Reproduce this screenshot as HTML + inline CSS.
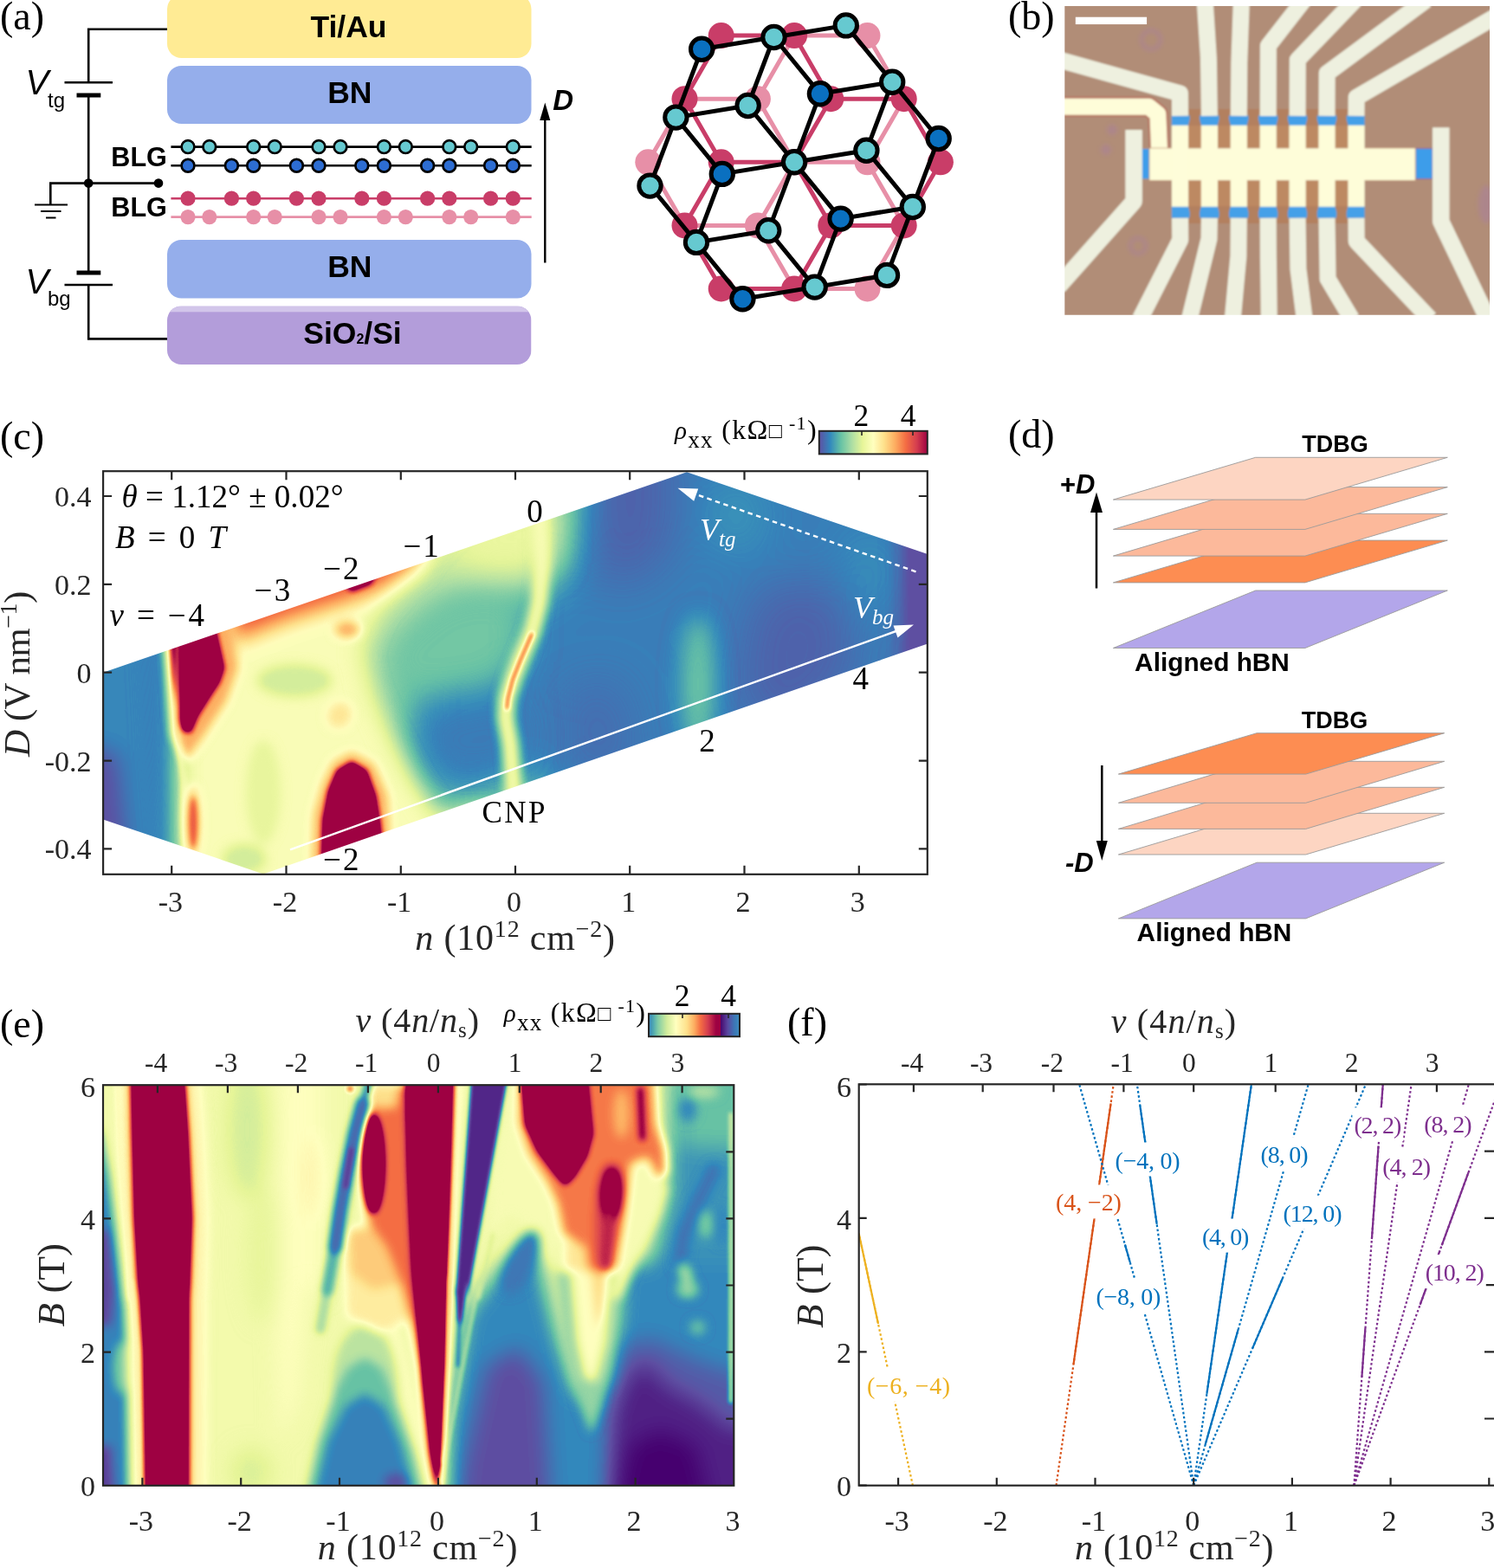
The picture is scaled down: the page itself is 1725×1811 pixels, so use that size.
<!DOCTYPE html>
<html lang="en"><head><meta charset="utf-8"><title>Figure</title>
<style>
html,body{margin:0;padding:0;background:#fff}
body{width:1725px;height:1811px;overflow:hidden}
svg{display:block}
text{font-family:"Liberation Serif",serif}
text.sa,.sa text{font-family:"Liberation Sans",sans-serif}
.it{font-style:italic}
</style></head><body>
<svg width="1725" height="1811" viewBox="0 0 1725 1811">
<rect width="1725" height="1811" fill="#fff"/>
<g id="pa">
<text x="0" y="34" font-size="46">(a)</text>
<rect x="193" y="-6" width="420.5" height="73" rx="16.5" fill="#FFEB94"/>
<rect x="193" y="76" width="420.5" height="67" rx="16.5" fill="#95AEEB"/>
<rect x="193" y="277" width="420.5" height="67.5" rx="16.5" fill="#95AEEB"/>
<clipPath id="csi"><rect x="193" y="353.5" width="420.5" height="67.5" rx="16.5"/></clipPath>
<g clip-path="url(#csi)"><rect x="193" y="353.5" width="420.5" height="67.5" fill="#B39DDA"/><rect x="193" y="353.5" width="420.5" height="6.8" fill="#D2C5EA"/></g>
<text x="402.5" y="42.8" font-size="35.5" class="sa" font-weight="bold" text-anchor="middle">Ti/Au</text>
<text x="403.8" y="118.6" font-size="35.5" class="sa" font-weight="bold" text-anchor="middle">BN</text>
<text x="403.8" y="319.6" font-size="35.5" class="sa" font-weight="bold" text-anchor="middle">BN</text>
<text x="407" y="397" font-size="35.5" class="sa" font-weight="bold" text-anchor="middle">SiO<tspan font-size="16" dy="0">2</tspan>/Si</text>
<g fill="none" stroke="#000" stroke-width="2.6">
<path d="M193 33.7H102.2V95.3M102.2 110V315M102.2 329V391.4H193"/>
<path d="M74.5 95.3H130M74.5 329H130"/>
<path d="M58.3 236.5V211.6H183"/>
<path d="M40 236.5H78M47 244H70.5M53 251.5H64.5" stroke-width="2"/>
<path d="M88.5 110H116.3M88.5 315H116.3" stroke-width="5"/>
</g>
<circle cx="102.2" cy="211.6" r="5.3"/><circle cx="183" cy="211.6" r="5.3"/>
<text x="29.5" y="109" font-size="40" class="sa" font-style="italic">V</text>
<text x="55" y="123.5" font-size="24" class="sa">tg</text>
<text x="29.5" y="339" font-size="40" class="sa" font-style="italic">V</text>
<text x="55" y="353" font-size="24" class="sa">bg</text>
<text x="128.3" y="191.9" font-size="30.6" class="sa" font-weight="bold">BLG</text>
<text x="128.3" y="249.8" font-size="30.6" class="sa" font-weight="bold">BLG</text>
<path d="M197.4 169.6H613.7" stroke="#000" stroke-width="2.6"/>
<g fill="#66C9D0" stroke="#000" stroke-width="2.7">
<circle cx="217" cy="169.6" r="7.4"/>
<circle cx="241.8" cy="169.6" r="7.4"/>
<circle cx="292.7" cy="169.6" r="7.4"/>
<circle cx="317.2" cy="169.6" r="7.4"/>
<circle cx="368" cy="169.6" r="7.4"/>
<circle cx="393" cy="169.6" r="7.4"/>
<circle cx="443.4" cy="169.6" r="7.4"/>
<circle cx="468.3" cy="169.6" r="7.4"/>
<circle cx="518.8" cy="169.6" r="7.4"/>
<circle cx="543.7" cy="169.6" r="7.4"/>
<circle cx="592.3" cy="169.6" r="7.4"/>
</g>
<path d="M197.4 191.3H613.7" stroke="#000" stroke-width="2.6"/>
<g fill="#2D6DD2" stroke="#000" stroke-width="2.7">
<circle cx="217" cy="191.3" r="7.4"/>
<circle cx="267.4" cy="191.3" r="7.4"/>
<circle cx="292.7" cy="191.3" r="7.4"/>
<circle cx="342.4" cy="191.3" r="7.4"/>
<circle cx="368" cy="191.3" r="7.4"/>
<circle cx="417.8" cy="191.3" r="7.4"/>
<circle cx="443.4" cy="191.3" r="7.4"/>
<circle cx="493.6" cy="191.3" r="7.4"/>
<circle cx="518.8" cy="191.3" r="7.4"/>
<circle cx="566.6" cy="191.3" r="7.4"/>
<circle cx="592.3" cy="191.3" r="7.4"/>
</g>
<path d="M197.4 229.2H613.7" stroke="#C93D68" stroke-width="2.6"/>
<g fill="#C93D68">
<circle cx="217" cy="229.2" r="8.6"/>
<circle cx="267.4" cy="229.2" r="8.6"/>
<circle cx="292.7" cy="229.2" r="8.6"/>
<circle cx="342.4" cy="229.2" r="8.6"/>
<circle cx="368" cy="229.2" r="8.6"/>
<circle cx="417.8" cy="229.2" r="8.6"/>
<circle cx="443.4" cy="229.2" r="8.6"/>
<circle cx="493.6" cy="229.2" r="8.6"/>
<circle cx="518.8" cy="229.2" r="8.6"/>
<circle cx="566.6" cy="229.2" r="8.6"/>
<circle cx="592.3" cy="229.2" r="8.6"/>
</g>
<path d="M197.4 250.6H613.7" stroke="#E78FA7" stroke-width="2.6"/>
<g fill="#E78FA7">
<circle cx="217" cy="250.6" r="8.6"/>
<circle cx="241.8" cy="250.6" r="8.6"/>
<circle cx="292.7" cy="250.6" r="8.6"/>
<circle cx="317.2" cy="250.6" r="8.6"/>
<circle cx="368" cy="250.6" r="8.6"/>
<circle cx="393" cy="250.6" r="8.6"/>
<circle cx="443.4" cy="250.6" r="8.6"/>
<circle cx="468.3" cy="250.6" r="8.6"/>
<circle cx="518.8" cy="250.6" r="8.6"/>
<circle cx="543.7" cy="250.6" r="8.6"/>
<circle cx="592.3" cy="250.6" r="8.6"/>
</g>
<path d="M629.3 303.5V135" stroke="#000" stroke-width="2.4" fill="none"/>
<path d="M629.3 118.5L623.3 139H635.3Z"/>
<text x="638.3" y="126.5" font-size="33" class="sa" font-weight="bold" font-style="italic">D</text>
<g stroke="#E78FA7" stroke-width="5" stroke-linecap="round">
<path d="M917.1 41.1L1001.5 41.1"/>
<path d="M917.1 41.1L874.9 114.2"/>
<path d="M1001.5 41.1L1043.7 114.2"/>
<path d="M790.5 114.2L874.9 114.2"/>
<path d="M790.5 114.2L748.3 187.3"/>
<path d="M874.9 114.2L917.1 187.3"/>
<path d="M1043.7 114.2L1001.5 187.3"/>
<path d="M748.3 187.3L790.5 260.4"/>
<path d="M917.1 187.3L1001.5 187.3"/>
<path d="M917.1 187.3L874.9 260.4"/>
<path d="M1001.5 187.3L1043.7 260.4"/>
<path d="M790.5 260.4L874.9 260.4"/>
<path d="M874.9 260.4L917.1 333.5"/>
<path d="M1043.7 260.4L1001.5 333.5"/>
<path d="M917.1 333.5L1001.5 333.5"/>
</g><g fill="#E78FA7">
<circle cx="1001.5" cy="41.1" r="15"/>
<circle cx="874.9" cy="114.2" r="15"/>
<circle cx="874.9" cy="260.4" r="15"/>
<circle cx="748.3" cy="187.3" r="15"/>
<circle cx="1001.5" cy="187.3" r="15"/>
<circle cx="1001.5" cy="333.5" r="15"/>
</g><g stroke="#C93D68" stroke-width="5" stroke-linecap="round">
<path d="M832.7 41.1L917.1 41.1"/>
<path d="M832.7 41.1L790.5 114.2"/>
<path d="M917.1 41.1L959.3 114.2"/>
<path d="M790.5 114.2L832.7 187.3"/>
<path d="M959.3 114.2L1043.7 114.2"/>
<path d="M959.3 114.2L917.1 187.3"/>
<path d="M1043.7 114.2L1085.9 187.3"/>
<path d="M832.7 187.3L917.1 187.3"/>
<path d="M832.7 187.3L790.5 260.4"/>
<path d="M917.1 187.3L959.3 260.4"/>
<path d="M1085.9 187.3L1043.7 260.4"/>
<path d="M790.5 260.4L832.7 333.5"/>
<path d="M959.3 260.4L1043.7 260.4"/>
<path d="M959.3 260.4L917.1 333.5"/>
<path d="M832.7 333.5L917.1 333.5"/>
</g><g fill="#C93D68">
<circle cx="790.5" cy="114.2" r="15"/>
<circle cx="1085.9" cy="187.3" r="15"/>
<circle cx="1043.7" cy="114.2" r="15"/>
<circle cx="832.7" cy="41.1" r="15"/>
<circle cx="790.5" cy="260.4" r="15"/>
<circle cx="917.1" cy="187.3" r="15"/>
<circle cx="1043.7" cy="260.4" r="15"/>
<circle cx="959.3" cy="260.4" r="15"/>
<circle cx="959.3" cy="114.2" r="15"/>
<circle cx="832.7" cy="187.3" r="15"/>
<circle cx="917.1" cy="333.5" r="15"/>
<circle cx="832.7" cy="333.5" r="15"/>
<circle cx="917.1" cy="41.1" r="15"/>
</g><g stroke="#000" stroke-width="5" stroke-linecap="round">
<path d="M1000.4 173.7L1053.8 239"/>
<path d="M917.1 187.3L1000.4 173.7"/>
<path d="M857.4 345.2L940.7 331.6"/>
<path d="M887.3 266.3L940.7 331.6"/>
<path d="M893.5 43L976.8 29.4"/>
<path d="M804 279.9L887.3 266.3"/>
<path d="M946.9 108.3L917.1 187.3"/>
<path d="M833.8 200.9L917.1 187.3"/>
<path d="M1083.7 160L1053.8 239"/>
<path d="M780.4 135.6L750.5 214.6"/>
<path d="M1053.8 239L1024 317.9"/>
<path d="M810.2 56.7L780.4 135.6"/>
<path d="M1030.2 94.7L1000.4 173.7"/>
<path d="M917.1 187.3L887.3 266.3"/>
<path d="M893.5 43L863.6 122"/>
<path d="M810.2 56.7L893.5 43"/>
<path d="M917.1 187.3L970.6 252.6"/>
<path d="M780.4 135.6L863.6 122"/>
<path d="M893.5 43L946.9 108.3"/>
<path d="M970.6 252.6L1053.8 239"/>
<path d="M750.5 214.6L804 279.9"/>
<path d="M804 279.9L857.4 345.2"/>
<path d="M940.7 331.6L1024 317.9"/>
<path d="M976.8 29.4L1030.2 94.7"/>
<path d="M833.8 200.9L804 279.9"/>
<path d="M863.6 122L917.1 187.3"/>
<path d="M780.4 135.6L833.8 200.9"/>
<path d="M1030.2 94.7L1083.7 160"/>
<path d="M946.9 108.3L1030.2 94.7"/>
<path d="M970.6 252.6L940.7 331.6"/>
</g><g stroke="#000" stroke-width="5">
<circle cx="810.2" cy="56.7" r="12.7" fill="#0A70C0"/>
<circle cx="893.5" cy="43" r="12.7" fill="#66C9D0"/>
<circle cx="976.8" cy="29.4" r="12.7" fill="#66C9D0"/>
<circle cx="780.4" cy="135.6" r="12.7" fill="#66C9D0"/>
<circle cx="863.6" cy="122" r="12.7" fill="#66C9D0"/>
<circle cx="946.9" cy="108.3" r="12.7" fill="#0A70C0"/>
<circle cx="1030.2" cy="94.7" r="12.7" fill="#66C9D0"/>
<circle cx="750.5" cy="214.6" r="12.7" fill="#66C9D0"/>
<circle cx="833.8" cy="200.9" r="12.7" fill="#0A70C0"/>
<circle cx="917.1" cy="187.3" r="12.7" fill="#66C9D0"/>
<circle cx="1000.4" cy="173.7" r="12.7" fill="#66C9D0"/>
<circle cx="1083.7" cy="160" r="12.7" fill="#0A70C0"/>
<circle cx="804" cy="279.9" r="12.7" fill="#66C9D0"/>
<circle cx="887.3" cy="266.3" r="12.7" fill="#66C9D0"/>
<circle cx="970.6" cy="252.6" r="12.7" fill="#0A70C0"/>
<circle cx="1053.8" cy="239" r="12.7" fill="#66C9D0"/>
<circle cx="857.4" cy="345.2" r="12.7" fill="#0A70C0"/>
<circle cx="940.7" cy="331.6" r="12.7" fill="#66C9D0"/>
<circle cx="1024" cy="317.9" r="12.7" fill="#66C9D0"/>
</g>
</g>
<g id="pb">
<text x="1164" y="34" font-size="46">(b)</text>
<defs><clipPath id="cb"><rect x="1229.3" y="7" width="490.7" height="356.8"/></clipPath><filter id="bb" x="-5%" y="-5%" width="110%" height="110%"><feGaussianBlur stdDeviation="1.3"/></filter><filter id="bb2" x="-50%" y="-50%" width="200%" height="200%"><feGaussianBlur stdDeviation="2.5"/></filter></defs>
<g clip-path="url(#cb)"><g filter="url(#bb)">
<rect x="1220" y="0" width="510" height="375" fill="#B18D77"/>
<g fill="none" stroke="#A97FA0" stroke-width="4" opacity="0.55" filter="url(#bb2)"><circle cx="1329" cy="46" r="11"/><circle cx="1314" cy="284" r="9"/></g>
<g fill="#A97FA0" opacity="0.5" filter="url(#bb2)"><circle cx="1284" cy="150" r="6"/><circle cx="1277" cy="173" r="6"/><ellipse cx="1716" cy="236" rx="9" ry="22"/></g>
<polyline points="1219.2,123.2 1326.4,123.2 1336.9,131.9 1338.6,173.9" fill="none" stroke="#B77562" stroke-width="23.5" stroke-linejoin="round" stroke-linecap="butt" />
<rect x="1352.9" y="133.5" width="222.7" height="12" fill="#45A0E8"/>
<rect x="1352.9" y="238" width="222.7" height="13.8" fill="#45A0E8"/>
<rect x="1371.8" y="144.5" width="15.2" height="27.5" fill="#BD8962"/>
<rect x="1371.8" y="208" width="15.2" height="31" fill="#BD8962"/>
<path d="M1371.8 126l1.9 8v4l-1.9 7h15.2l-1.9-7v-4l1.9-8z" fill="#B3805F"/>
<path d="M1371.8 238l1.9 7v4l-1.9 9h15.2l-1.9-9v-4l1.9-7z" fill="#B3805F"/>
<rect x="1405.7" y="144.5" width="15.2" height="27.5" fill="#BD8962"/>
<rect x="1405.7" y="208" width="15.2" height="31" fill="#BD8962"/>
<path d="M1405.7 126l1.9 8v4l-1.9 7h15.2l-1.9-7v-4l1.9-8z" fill="#B3805F"/>
<path d="M1405.7 238l1.9 7v4l-1.9 9h15.2l-1.9-9v-4l1.9-7z" fill="#B3805F"/>
<rect x="1439.6" y="144.5" width="15.2" height="27.5" fill="#BD8962"/>
<rect x="1439.6" y="208" width="15.2" height="31" fill="#BD8962"/>
<path d="M1439.6 126l1.9 8v4l-1.9 7h15.2l-1.9-7v-4l1.9-8z" fill="#B3805F"/>
<path d="M1439.6 238l1.9 7v4l-1.9 9h15.2l-1.9-9v-4l1.9-7z" fill="#B3805F"/>
<rect x="1473.5" y="144.5" width="15.2" height="27.5" fill="#BD8962"/>
<rect x="1473.5" y="208" width="15.2" height="31" fill="#BD8962"/>
<path d="M1473.5 126l1.9 8v4l-1.9 7h15.2l-1.9-7v-4l1.9-8z" fill="#B3805F"/>
<path d="M1473.5 238l1.9 7v4l-1.9 9h15.2l-1.9-9v-4l1.9-7z" fill="#B3805F"/>
<rect x="1507.4" y="144.5" width="15.2" height="27.5" fill="#BD8962"/>
<rect x="1507.4" y="208" width="15.2" height="31" fill="#BD8962"/>
<path d="M1507.4 126l1.9 8v4l-1.9 7h15.2l-1.9-7v-4l1.9-8z" fill="#B3805F"/>
<path d="M1507.4 238l1.9 7v4l-1.9 9h15.2l-1.9-9v-4l1.9-7z" fill="#B3805F"/>
<rect x="1541.4" y="144.5" width="15.2" height="27.5" fill="#BD8962"/>
<rect x="1541.4" y="208" width="15.2" height="31" fill="#BD8962"/>
<path d="M1541.4 126l1.9 8v4l-1.9 7h15.2l-1.9-7v-4l1.9-8z" fill="#B3805F"/>
<path d="M1541.4 238l1.9 7v4l-1.9 9h15.2l-1.9-9v-4l1.9-7z" fill="#B3805F"/>
<rect x="1316" y="172" width="12" height="34.5" fill="#3E9DEA"/>
<rect x="1634" y="171.5" width="20" height="35" fill="#3E9DEA" stroke="#8A5C9A" stroke-width="1"/>
<polyline points="1219.2,68.1 1362.4,107.8 1362.5,133.9" fill="none" stroke="#EEF0DF" stroke-width="19" stroke-linejoin="round" stroke-linecap="butt" />
<polyline points="1391.1,0 1395.4,66.7 1396.4,133.9" fill="none" stroke="#EEF0DF" stroke-width="19" stroke-linejoin="round" stroke-linecap="butt" />
<polyline points="1433.4,0 1430.8,72.5 1430.3,133.9" fill="none" stroke="#EEF0DF" stroke-width="19" stroke-linejoin="round" stroke-linecap="butt" />
<polyline points="1505.6,0 1464.4,52.8 1464.2,133.9" fill="none" stroke="#EEF0DF" stroke-width="19" stroke-linejoin="round" stroke-linecap="butt" />
<polyline points="1564.7,0 1498.3,69 1498.1,133.9" fill="none" stroke="#EEF0DF" stroke-width="19" stroke-linejoin="round" stroke-linecap="butt" />
<polyline points="1646.7,0 1532.2,84.6 1532,133.9" fill="none" stroke="#EEF0DF" stroke-width="19" stroke-linejoin="round" stroke-linecap="butt" />
<polyline points="1732.2,15.9 1566.2,112.5 1566,133.9" fill="none" stroke="#EEF0DF" stroke-width="19" stroke-linejoin="round" stroke-linecap="butt" />
<polyline points="1362.5,251.9 1362.7,277.1 1316.3,368.4" fill="none" stroke="#EEF0DF" stroke-width="19" stroke-linejoin="round" stroke-linecap="butt" />
<polyline points="1396.4,251.9 1396,275.7 1373.4,368.4" fill="none" stroke="#EEF0DF" stroke-width="19" stroke-linejoin="round" stroke-linecap="butt" />
<polyline points="1430.3,251.9 1429.9,295.9 1423.3,368.4" fill="none" stroke="#EEF0DF" stroke-width="19" stroke-linejoin="round" stroke-linecap="butt" />
<polyline points="1464.2,251.9 1464.4,295.9 1465.3,368.4" fill="none" stroke="#EEF0DF" stroke-width="19" stroke-linejoin="round" stroke-linecap="butt" />
<polyline points="1498.1,251.9 1498.9,310.4 1506.2,368.4" fill="none" stroke="#EEF0DF" stroke-width="19" stroke-linejoin="round" stroke-linecap="butt" />
<polyline points="1532,251.9 1533.1,322 1560.7,368.4" fill="none" stroke="#EEF0DF" stroke-width="19" stroke-linejoin="round" stroke-linecap="butt" />
<polyline points="1566,251.9 1566.2,278.6 1651.1,368.4" fill="none" stroke="#EEF0DF" stroke-width="19" stroke-linejoin="round" stroke-linecap="butt" />
<polyline points="1309.1,150.1 1309.1,232.8 1222.1,330.7" fill="none" stroke="#EEF0DF" stroke-width="19.5" stroke-linejoin="round" stroke-linecap="butt" />
<polyline points="1663.8,147.2 1663.8,255.9 1717.8,368.4" fill="none" stroke="#EEF0DF" stroke-width="19.5" stroke-linejoin="round" stroke-linecap="butt" />
<polyline points="1219.2,123.2 1326.4,123.2 1336.9,131.9 1338.6,173.9" fill="none" stroke="#FEFDD9" stroke-width="19" stroke-linejoin="round" stroke-linecap="butt" />
<rect x="1327" y="171" width="307.2" height="37.5" fill="#FEFDD9" stroke="#C89A7A" stroke-width="0.8"/>
<rect x="1352.9" y="144.8" width="19.2" height="94" fill="#FEFDD9"/>
<rect x="1386.8" y="144.8" width="19.2" height="94" fill="#FEFDD9"/>
<rect x="1420.7" y="144.8" width="19.2" height="94" fill="#FEFDD9"/>
<rect x="1454.6" y="144.8" width="19.2" height="94" fill="#FEFDD9"/>
<rect x="1488.5" y="144.8" width="19.2" height="94" fill="#FEFDD9"/>
<rect x="1522.4" y="144.8" width="19.2" height="94" fill="#FEFDD9"/>
<rect x="1556.4" y="144.8" width="19.2" height="94" fill="#FEFDD9"/>
</g>
<rect x="1241.8" y="19.7" width="82.3" height="8.4" fill="#fff"/>
</g>
</g>
<g id="pc">
<text x="0" y="519" font-size="46">(c)</text>
<defs><clipPath id="cc"><polygon points="119.1,776.7 793,545.3 1071,640 1071,743.5 304,1009.5 119.1,946.4"/></clipPath><filter id="cmC" x="29.1" y="454.2" width="1131.7" height="645.6" filterUnits="userSpaceOnUse" color-interpolation-filters="sRGB"><feComponentTransfer><feFuncR type="table" tableValues="0.369 0.369 0.369 0.334 0.294 0.254 0.214 0.222 0.27 0.317 0.365 0.416 0.479 0.542 0.605 0.668 0.722 0.776 0.83 0.884 0.917 0.94 0.963 0.986 1 0.999 0.998 0.997 0.996 0.995 0.994 0.993 0.992 0.986 0.978 0.969 0.961 0.943 0.915 0.887 0.858 0.826 0.776 0.726 0.675 0.625 0.62 0.62 0.62 0.62 0.62 0.62 0.62 0.62 0.62 0.62 0.62 0.62 0.62"/><feFuncG type="table" tableValues="0.31 0.31 0.31 0.354 0.406 0.458 0.51 0.563 0.616 0.669 0.722 0.767 0.792 0.816 0.841 0.866 0.888 0.91 0.932 0.953 0.967 0.976 0.985 0.994 0.99 0.961 0.933 0.905 0.875 0.829 0.784 0.738 0.692 0.636 0.577 0.518 0.458 0.407 0.364 0.321 0.278 0.233 0.177 0.121 0.066 0.01 0.004 0.004 0.004 0.004 0.004 0.004 0.004 0.004 0.004 0.004 0.004 0.004 0.004"/><feFuncB type="table" tableValues="0.635 0.635 0.635 0.656 0.681 0.706 0.73 0.729 0.707 0.685 0.663 0.647 0.646 0.645 0.644 0.643 0.633 0.622 0.611 0.6 0.62 0.655 0.691 0.727 0.731 0.684 0.637 0.589 0.542 0.504 0.466 0.427 0.389 0.359 0.332 0.304 0.277 0.268 0.279 0.29 0.301 0.308 0.296 0.284 0.272 0.26 0.259 0.259 0.259 0.259 0.259 0.259 0.259 0.259 0.259 0.259 0.259 0.259 0.259"/></feComponentTransfer></filter><filter id="bC2_6" x="29.1" y="454.2" width="1131.7" height="645.6" filterUnits="userSpaceOnUse" color-interpolation-filters="sRGB"><feGaussianBlur stdDeviation="2.6"/></filter><filter id="bC3_3" x="29.1" y="454.2" width="1131.7" height="645.6" filterUnits="userSpaceOnUse" color-interpolation-filters="sRGB"><feGaussianBlur stdDeviation="3.3"/></filter><filter id="bC6" x="29.1" y="454.2" width="1131.7" height="645.6" filterUnits="userSpaceOnUse" color-interpolation-filters="sRGB"><feGaussianBlur stdDeviation="6"/></filter><filter id="bC13" x="29.1" y="454.2" width="1131.7" height="645.6" filterUnits="userSpaceOnUse" color-interpolation-filters="sRGB"><feGaussianBlur stdDeviation="13"/></filter><filter id="bC19" x="29.1" y="454.2" width="1131.7" height="645.6" filterUnits="userSpaceOnUse" color-interpolation-filters="sRGB"><feGaussianBlur stdDeviation="19"/></filter><filter id="bC28" x="29.1" y="454.2" width="1131.7" height="645.6" filterUnits="userSpaceOnUse" color-interpolation-filters="sRGB"><feGaussianBlur stdDeviation="28"/></filter>
<linearGradient id="cbc" x1="0" x2="1" y1="0" y2="0"><stop offset="0" stop-color="#5E4FA2"/><stop offset="0.1" stop-color="#3288BD"/><stop offset="0.2" stop-color="#66C2A5"/><stop offset="0.3" stop-color="#ABDDA4"/><stop offset="0.4" stop-color="#E6F598"/><stop offset="0.5" stop-color="#FFFFBF"/><stop offset="0.6" stop-color="#FEE08B"/><stop offset="0.7" stop-color="#FDAE61"/><stop offset="0.8" stop-color="#F46D43"/><stop offset="0.9" stop-color="#D53E4F"/><stop offset="1" stop-color="#9E0142"/></linearGradient></defs>
<g clip-path="url(#cc)"><g filter="url(#cmC)">
<rect x="29.1" y="454.2" width="1131.7" height="645.6" fill="#1a1a1a"/>
<g filter="url(#bC28)">
<polygon points="250,600 470,520 660,480 650,640 612,690 560,690 510,710 470,750 462,800 470,880 500,940 560,930 620,900 660,1080 250,1080" fill="#4d4d4d"/>
<polygon points="680,500 780,500 775,640 720,680 680,660" fill="#101010"/>
<polygon points="870,680 970,670 990,780 900,850 850,810" fill="#101010"/>
<polygon points="650,790 720,780 740,900 650,900" fill="#141414"/>
<ellipse cx="850" cy="595" rx="22" ry="40" fill="#262626"/>
<ellipse cx="1005" cy="660" rx="14" ry="50" fill="#262626"/>
</g>
<g filter="url(#bC13)">
<ellipse cx="806" cy="790" rx="19" ry="80" fill="#323232"/>
<polygon points="1044,600 1110,600 1110,800 1044,800" fill="#020202"/>
</g>
<g filter="url(#bC19)">
<polygon points="440,745 505,690 560,676 606,690 604,760 575,790 520,800 470,805 446,785" fill="#333333"/>
<polygon points="480,835 600,810 610,870 560,890 505,885" fill="#191919"/>
<polygon points="500,610 640,560 640,650 600,665 540,660" fill="#595959"/>
</g>
<g filter="url(#bC13)">
<polygon points="206,660 480,560 540,590 480,650 436,700 414,750 426,800 448,850 474,900 505,948 560,935 600,1060 206,1060" fill="#646464"/>
<polygon points="40,700 166,740 172,860 181,960 190,1060 40,1060" fill="#1c1c1c"/>
<polygon points="40,850 135,870 148,990 40,990" fill="#090909"/>
<polygon points="262,687.6 505,604 482,655.9 440,682.4 400,696.1 330,718.2 266,744.2" fill="#a8a8a8"/>
</g>
<g filter="url(#bC6)">
<ellipse cx="340" cy="786" rx="44" ry="20" fill="#4f4f4f"/>
<ellipse cx="304" cy="915" rx="20" ry="60" fill="#575757"/>
<ellipse cx="282" cy="992" rx="26" ry="18" fill="#4f4f4f"/>
<ellipse cx="401" cy="727" rx="15" ry="10" fill="#8e8e8e"/>
<ellipse cx="392" cy="826" rx="14" ry="16" fill="#777777" transform="rotate(30 392 826)"/>
<polygon points="190,720 262,700 276,770 262,810 236,850 216,880 200,850" fill="#8e8e8e"/>
<polygon points="406,868 432,882 448,919 452,1000 360,1000 362,940 372,905 384,880" fill="#8e8e8e"/>
<ellipse cx="222" cy="950" rx="9" ry="44" fill="#868686"/>
<path d="M622.6 581.7L625.9 651.3L622.6 695.8L614.3 729.2L600.3 762.6L592 784.9L585 807.1L583.7 829.4L589.2 860L592 900L596 960" fill="none" stroke="#646464" stroke-width="17" stroke-linecap="round" stroke-linejoin="round"/>
</g>
<g filter="url(#bC2_6)">
<path d="M614.3 732L600.9 762.6L592 784.9L586.4 807.1L585.3 818.3" fill="none" stroke="#d0d0d0" stroke-width="3.2" stroke-linecap="round" stroke-linejoin="round"/>
</g>
<g filter="url(#bC3_3)">
<polygon points="197,730 246,715 255,755 258.5,771.6 253,788 245,800 228,827 220,846 211,844 204.5,822 200.3,780" fill="#ffffff"/>
<polygon points="406,880 423,890 433.5,919 438,947 444,1000 371,1010 373,947 379.5,913.6 389.5,890" fill="#ffffff"/>
<polygon points="396,673.5 436,659.7 428,674.5 406,683.1" fill="#ececec"/>
<ellipse cx="223" cy="950" rx="5" ry="30" fill="#aaaaaa"/>
<path d="M205 740L206 860L212 900L216 1000" fill="none" stroke="#717171" stroke-width="4" stroke-linecap="round" stroke-linejoin="round"/>
</g>
</g></g>
<g stroke="#fff" stroke-width="2.4" fill="none"><path d="M335 981.3L1040 727"/><path d="M1057.5 660.3L800 569.7" stroke-dasharray="5.6 4.4"/></g>
<path d="M1055 721.6L1036.5 736.5L1031.5 722.5Z" fill="#fff"/>
<path d="M782.5 563.7L806.2 564.6L801.2 578.7Z" fill="#fff"/>
<g stroke="#262626" stroke-width="2.2" fill="none">
<rect x="119.1" y="544.2" width="951.7" height="465.6"/>
<path d="M198.2 1009.8v-10M198.2 544.2v10M330.5 1009.8v-10M330.5 544.2v10M462.8 1009.8v-10M462.8 544.2v10M595 1009.8v-10M595 544.2v10M727.2 1009.8v-10M727.2 544.2v10M859.5 1009.8v-10M859.5 544.2v10M991.8 1009.8v-10M991.8 544.2v10M119.1 573h10M1070.8 573h-10M119.1 674.8h10M1070.8 674.8h-10M119.1 776.7h10M1070.8 776.7h-10M119.1 878.6h10M1070.8 878.6h-10M119.1 980.4h10M1070.8 980.4h-10"/></g>
<g font-size="34" fill="#262626" text-anchor="middle">
<text x="196.8" y="1052.7">-3</text>
<text x="329" y="1052.7">-2</text>
<text x="461.2" y="1052.7">-1</text>
<text x="593.5" y="1052.7">0</text>
<text x="725.8" y="1052.7">1</text>
<text x="858" y="1052.7">2</text>
<text x="990.2" y="1052.7">3</text>
</g><g font-size="34" fill="#262626" text-anchor="end">
<text x="105.5" y="585">0.4</text>
<text x="105.5" y="686.8">0.2</text>
<text x="105.5" y="788.7">0</text>
<text x="105.5" y="890.6">-0.2</text>
<text x="105.5" y="992.4">-0.4</text>
</g>
<text x="479.3" y="1096.8" font-size="42" fill="#262626" textLength="230.8" lengthAdjust="spacing"><tspan font-style="italic">n</tspan> (10<tspan dy="-15" font-size="28">12</tspan><tspan dy="15"> cm</tspan><tspan dy="-15" font-size="28">−2</tspan><tspan dy="15">)</tspan></text>
<text transform="translate(33.5 874) rotate(-90)" font-size="43" fill="#262626" textLength="191.3" lengthAdjust="spacing"><tspan font-style="italic">D</tspan> (V nm<tspan dy="-15" font-size="28">−1</tspan><tspan dy="15">)</tspan></text>
<text x="140.5" y="586.4" font-size="37" fill="#000" textLength="256" lengthAdjust="spacing"><tspan font-style="italic">θ</tspan> = 1.12° ± 0.02°</text>
<text x="133" y="633.2" font-size="37" fill="#000" textLength="128" lengthAdjust="spacing"><tspan font-style="italic">B</tspan> = 0 <tspan font-style="italic">T</tspan></text>
<text x="126.6" y="722.8" font-size="37" fill="#000" textLength="109.5" lengthAdjust="spacing"><tspan font-style="italic">v</tspan> = −4</text>
<text x="293.6" y="694.4" font-size="37" fill="#000" textLength="41.7" lengthAdjust="spacing">−3</text>
<text x="372.9" y="669.3" font-size="37" fill="#000" textLength="41.7" lengthAdjust="spacing">−2</text>
<text x="465.5" y="643.2" font-size="37" fill="#000" textLength="41.2" lengthAdjust="spacing">−1</text>
<text x="608.3" y="602.5" font-size="37" fill="#000">0</text>
<text x="556.5" y="949.5" font-size="35" fill="#000" textLength="73" lengthAdjust="spacing">CNP</text>
<text x="807.3" y="867.5" font-size="37" fill="#000">2</text>
<text x="984.5" y="796.4" font-size="37" fill="#000">4</text>
<text x="372.9" y="1005.2" font-size="37" fill="#000" textLength="41.7" lengthAdjust="spacing">−2</text>
<text x="808" y="624.4" font-size="36" fill="#fff"><tspan font-style="italic">V</tspan><tspan dy="7" font-size="25" font-style="italic">tg</tspan></text>
<text x="985" y="713.7" font-size="36" fill="#fff"><tspan font-style="italic">V</tspan><tspan dy="7" font-size="25" font-style="italic">bg</tspan></text>
<rect x="945.8" y="497.8" width="125" height="26.6" fill="url(#cbc)" stroke="#262626" stroke-width="2"/>
<path d="M995 498v5M1054 498v5" stroke="#262626" stroke-width="1.6"/>
<g font-size="35.5" text-anchor="middle"><text x="994.3" y="491.6">2</text><text x="1048.5" y="491.6">4</text></g>
<text x="779" y="507" font-size="32" textLength="163.6" lengthAdjust="spacing"><tspan font-style="italic" font-size="29">ρ</tspan><tspan dy="10" font-size="27">xx</tspan><tspan dy="-10"> (kΩ</tspan><tspan font-size="25" dy="-1">□</tspan><tspan font-size="22" dy="-10"> -1</tspan><tspan dy="11">)</tspan></text>
</g>
<g id="pd">
<text x="1164" y="516.5" font-size="46">(d)</text>
<g stroke="#9A9A9A" stroke-width="0.9" stroke-linejoin="miter">
<polygon points="1285.4,748.5 1449.7,682 1671.3,682 1506.9,748.5" fill="#B3A6EA"/>
<polygon points="1285.4,672.9 1449.7,624.1 1671.3,624.1 1506.9,672.9" fill="#FD8D52"/>
<polygon points="1285.4,642.1 1449.7,593.3 1671.3,593.3 1506.9,642.1" fill="#FCB99B"/>
<polygon points="1285.4,611.4 1449.7,562.6 1671.3,562.6 1506.9,611.4" fill="#FCB99B"/>
<polygon points="1285.4,577.1 1449.7,528.3 1671.3,528.3 1506.9,577.1" fill="#FDD5C2"/>
<polygon points="1291.4,1060.9 1451.1,996.2 1667.7,996.2 1507.7,1060.9" fill="#B3A6EA"/>
<polygon points="1291.4,987 1451.1,939.3 1667.7,939.3 1507.7,987" fill="#FDD5C2"/>
<polygon points="1291.4,957.4 1451.1,909.3 1667.7,909.3 1507.7,957.4" fill="#FCB99B"/>
<polygon points="1291.4,927.3 1451.1,879.3 1667.7,879.3 1507.7,927.3" fill="#FCB99B"/>
<polygon points="1291.4,894.1 1451.1,846.7 1667.7,846.7 1507.7,894.1" fill="#FD8D52"/>
</g>
<path d="M1266 679.5V585" stroke="#000" stroke-width="2.5" fill="none"/>
<path d="M1266 568.5L1259 592H1273Z"/>
<path d="M1272.3 884V978" stroke="#000" stroke-width="2.5" fill="none"/>
<path d="M1272.3 994L1265.8 971H1278.8Z"/>
<text x="1224" y="569.5" font-size="31" class="sa" font-weight="bold">+<tspan font-style="italic">D</tspan></text>
<text x="1230" y="1006.5" font-size="31" class="sa" font-weight="bold" font-style="italic">-D</text>
<text x="1541.5" y="522.3" font-size="27" class="sa" font-weight="bold" text-anchor="middle">TDBG</text>
<text x="1541" y="840.5" font-size="27" class="sa" font-weight="bold" text-anchor="middle">TDBG</text>
<text x="1399.5" y="774.6" font-size="29.8" class="sa" font-weight="bold" text-anchor="middle">Aligned hBN</text>
<text x="1402" y="1086.7" font-size="29.8" class="sa" font-weight="bold" text-anchor="middle">Aligned hBN</text>
</g>
<g id="pe">
<text x="0" y="1198" font-size="46">(e)</text>
<defs><clipPath id="ce"><rect x="119" y="1253.2" width="728.3" height="462.6"/></clipPath><filter id="cmE" x="59" y="1193.2" width="848.3" height="582.6" filterUnits="userSpaceOnUse" color-interpolation-filters="sRGB"><feComponentTransfer><feFuncR type="table" tableValues="0.275 0.29 0.306 0.322 0.337 0.353 0.369 0.325 0.282 0.239 0.196 0.247 0.298 0.349 0.4 0.468 0.535 0.603 0.671 0.728 0.786 0.844 0.902 0.926 0.951 0.975 1 0.999 0.998 0.997 0.996 0.995 0.994 0.993 0.992 0.983 0.975 0.966 0.957 0.926 0.896 0.866 0.835 0.781 0.727 0.674 0.62 0.62 0.62 0.62 0.62 0.62 0.62 0.62 0.62 0.62 0.62 0.62 0.62"/><feFuncG type="table" tableValues="0 0.052 0.103 0.155 0.207 0.258 0.31 0.366 0.422 0.477 0.533 0.59 0.647 0.704 0.761 0.787 0.814 0.84 0.867 0.89 0.914 0.937 0.961 0.971 0.98 0.99 1 0.97 0.939 0.909 0.878 0.829 0.78 0.731 0.682 0.619 0.555 0.491 0.427 0.381 0.335 0.289 0.243 0.183 0.124 0.064 0.004 0.004 0.004 0.004 0.004 0.004 0.004 0.004 0.004 0.004 0.004 0.004 0.004"/><feFuncB type="table" tableValues="0.439 0.472 0.505 0.537 0.57 0.603 0.635 0.662 0.688 0.715 0.741 0.718 0.694 0.671 0.647 0.646 0.645 0.644 0.643 0.631 0.62 0.608 0.596 0.634 0.673 0.711 0.749 0.698 0.647 0.596 0.545 0.504 0.463 0.422 0.38 0.351 0.322 0.292 0.263 0.275 0.286 0.298 0.31 0.297 0.284 0.272 0.259 0.259 0.259 0.259 0.259 0.259 0.259 0.259 0.259 0.259 0.259 0.259 0.259"/></feComponentTransfer></filter><filter id="bE2_2" x="59" y="1193.2" width="848.3" height="582.6" filterUnits="userSpaceOnUse" color-interpolation-filters="sRGB"><feGaussianBlur stdDeviation="2.2"/></filter><filter id="bE3_6" x="59" y="1193.2" width="848.3" height="582.6" filterUnits="userSpaceOnUse" color-interpolation-filters="sRGB"><feGaussianBlur stdDeviation="3.6"/></filter><filter id="bE6" x="59" y="1193.2" width="848.3" height="582.6" filterUnits="userSpaceOnUse" color-interpolation-filters="sRGB"><feGaussianBlur stdDeviation="6"/></filter><filter id="bE12" x="59" y="1193.2" width="848.3" height="582.6" filterUnits="userSpaceOnUse" color-interpolation-filters="sRGB"><feGaussianBlur stdDeviation="12"/></filter>
<linearGradient id="cbe" x1="0" x2="1" y1="0" y2="0"><stop offset="0" stop-color="#3A86BC"/><stop offset="0.05" stop-color="#4FA8B1"/><stop offset="0.1" stop-color="#7FCBA5"/><stop offset="0.2" stop-color="#D2EC9C"/><stop offset="0.3" stop-color="#FFFFBF"/><stop offset="0.42" stop-color="#FEE08B"/><stop offset="0.5" stop-color="#FDAE61"/><stop offset="0.57" stop-color="#F46D43"/><stop offset="0.65" stop-color="#D53E4F"/><stop offset="0.74" stop-color="#9E0142"/><stop offset="0.787" stop-color="#9E0142"/><stop offset="0.79" stop-color="#47076E"/><stop offset="0.87" stop-color="#5A48A0"/><stop offset="0.94" stop-color="#3D75B5"/><stop offset="1" stop-color="#3A8CBC"/></linearGradient></defs>
<g clip-path="url(#ce)"><g filter="url(#cmE)">
<rect x="59" y="1193.2" width="848.3" height="582.6" fill="#6a6a6a"/>
<g filter="url(#bE12)">
<ellipse cx="285.5" cy="1304.9" rx="24" ry="80" fill="#5b5b5b"/>
<ellipse cx="304.1" cy="1448.7" rx="20" ry="80" fill="#626262"/>
<ellipse cx="290.1" cy="1700.3" rx="24" ry="28" fill="#5d5d5d"/>
<polygon points="322.6,1228.4 373.6,1228.4 373.6,1499.7 355.1,1480 343.5,1619.1 322.6,1665.5 318,1480 322.6,1499.7" fill="#727272"/>
<ellipse cx="362" cy="1360.6" rx="14" ry="50" fill="#797979"/>
<polygon points="770.7,1216.8 877.4,1216.8 877.4,1518.3 726.7,1518.3 749.9,1448.7 768.4,1379.1" fill="#303030"/>
<polygon points="780,1216.8 877.4,1216.8 877.4,1328.1 784.6,1323.5" fill="#3e3e3e"/>
<polygon points="536.5,1514.8 580.6,1456.8 622.3,1445.2 645.5,1538 668.7,1609.9 696.5,1595.9 710.4,1526.4 715.1,1456.8 877.4,1456.8 877.4,1746.7 513.3,1746.7 515.7,1642.3" fill="#2c2c2c"/>
<polygon points="562,1577.4 599.1,1556.5 627,1595.9 636.2,1746.7 529.6,1746.7 536.5,1688.7" fill="#1a1a1a"/>
<polygon points="715.1,1556.5 749.9,1544.9 807.8,1572.8 877.4,1595.9 877.4,1642.3 705.8,1642.3" fill="#1e1e1e"/>
<polygon points="705.8,1633 722,1595.9 745.2,1572.8 768.4,1600.6 803.2,1619.1 840.3,1647 877.4,1647 877.4,1746.7 701.2,1746.7" fill="#0b0b0b"/>
<polygon points="726.7,1670.1 761.4,1651.6 803.2,1670.1 821.7,1746.7 710.4,1746.7" fill="#000000"/>
</g>
<g filter="url(#bE6)">
<polygon points="72.2,1304.9 116.2,1304.9 126,1355.9 132.5,1407 139,1460.3 142.9,1499.7 146.4,1507.8 149.6,1595.9 152.9,1746.7 72.2,1746.7" fill="#2a2a2a"/>
<polygon points="72.2,1420.9 125.5,1420.9 132.5,1499.7 132.5,1480 127.8,1531 72.2,1531" fill="#171717"/>
<polygon points="72.2,1670.1 127.8,1670.1 132.5,1746.7 72.2,1746.7" fill="#151515"/>
<ellipse cx="140.6" cy="1579.7" rx="9" ry="30" fill="#454545"/>
<polygon points="134.8,1226.1 229.9,1226.1 236.8,1309.6 241.4,1407 239.1,1499.7 238.7,1480 238.2,1735.1 149.9,1735.1 147.5,1561.2 144.1,1480 144.1,1499.7 139,1407 135.9,1309.6" fill="#787878"/>
<polygon points="152.9,1226.1 209.4,1226.1 215.2,1309.6 219.7,1407 216.6,1499.7 216.2,1480 215.7,1735.1 170.3,1735.1 167.5,1561.2 162.4,1480 162.4,1499.7 157,1407 154.5,1309.6" fill="#ffffff"/>
<polygon points="470.5,1200 523.5,1200 521.5,1253 518.5,1356 515,1480 513,1573 509.5,1665 506.3,1722 505.3,1722 498,1677 489.5,1596 481.5,1500 478,1460 475,1407 472.5,1350 471,1253" fill="#ffffff"/>
<ellipse cx="421" cy="1600" rx="38" ry="70" fill="#545454"/>
<polygon points="351.6,1735.1 366.7,1665.5 385.2,1609.9 401.4,1579.7 421.2,1568.1 440.9,1579.7 459.4,1623.8 478,1677.1 491.9,1735.1" fill="#3e3e3e"/>
<polygon points="362,1735.1 378.3,1665.5 399.1,1623.8 421.2,1609.9 443.2,1623.8 461.7,1665.5 480.3,1735.1" fill="#2a2a2a"/>
<ellipse cx="457.1" cy="1711.9" rx="14" ry="10" fill="#1a1a1a"/>
<path d="M443.2 1493.9L466.4 1584.3L484.9 1665.5L497.7 1715.8" fill="none" stroke="#767676" stroke-width="7" stroke-linecap="round" stroke-linejoin="round"/>
<polygon points="398,1430 470,1420 476,1520 440,1540 400,1520" fill="#7d7d7d"/>
<polygon points="402,1420 470,1410 474,1480 430,1490 404,1470" fill="#8b8b8b"/>
<polygon points="429.3,1253.9 471,1253.9 480.3,1499.7 486,1580 478,1540 462,1480 446,1440 424,1410 415.4,1332.8 421.2,1286.4" fill="#a7a7a7"/>
<polygon points="424.6,1253.2 461.7,1253.2 457.1,1279.4 429.3,1279.4" fill="#848484"/>
<polygon points="598.7,1240 754.5,1240 758,1298 768.4,1328.1 769.6,1355.9 759.1,1360.6 747.5,1337.4 729,1344.3 722,1402.3 712.8,1460.3 701.2,1480 691.9,1514.8 682.6,1480 678,1471.9 668.7,1437.1 650.1,1425.5 643.2,1390.7 631.6,1365.2 610.7,1332.8 599.1,1298" fill="#a4a4a4"/>
<ellipse cx="717.4" cy="1286.4" rx="9" ry="28" fill="#929292"/>
<polygon points="652.5,1432.5 675.7,1439.4 682.6,1499.7 682.6,1493.9 668.7,1526.4 659.4,1493.9 652.5,1499.7" fill="#808080"/>
<polygon points="691.9,1369.9 719.7,1369.9 712.8,1425.5 703.5,1471.9 694.2,1490.4 688.4,1448.7 688.4,1402.3" fill="#bcbcbc"/>
<ellipse cx="706.3" cy="1376.8" rx="12" ry="30" fill="#ededed"/>
<polygon points="640.9,1468.4 712.8,1468.4 705.8,1549.6 694.2,1623.8 682.6,1656.2 668.7,1619.1 650.1,1549.6" fill="#4a4a4a"/>
<polygon points="659.4,1468.4 703.5,1468.4 698.8,1549.6 687.2,1595.9 675.7,1591.3 666.4,1549.6" fill="#727272"/>
<polygon points="682.6,1468.4 701.2,1468.4 696.5,1514.8 689.6,1535.7" fill="#878787"/>
<polygon points="589.9,1253.2 599.1,1298 610.7,1332.8 631.6,1365.2 643.2,1390.7 645.5,1425.5 640.9,1471.9 622.3,1425.5 589.9,1402.3 564.3,1425.5 569,1355.9 580.6,1298" fill="#6d6d6d"/>
<polygon points="729,1344.3 747.5,1337.4 759.1,1360.6 770.7,1369.9 761.4,1402.3 738.3,1448.7 715.1,1499.7 705.8,1499.7 722,1402.3" fill="#6d6d6d"/>
<ellipse cx="601.4" cy="1458" rx="17" ry="40" fill="#272727" transform="rotate(25 601.4 1458)"/>
<ellipse cx="793.9" cy="1281.7" rx="10" ry="14" fill="#2c2c2c"/>
<path d="M824.1 1351.3L807.8 1383.8L789.3 1425.5L784.6 1460.3" fill="none" stroke="#252525" stroke-width="15" stroke-linecap="round" stroke-linejoin="round"/>
<ellipse cx="833.3" cy="1416.2" rx="8" ry="22" fill="#2c2c2c"/>
<ellipse cx="812.5" cy="1260.9" rx="18" ry="7" fill="#545454"/>
<ellipse cx="814.8" cy="1413.9" rx="7" ry="16" fill="#464646"/>
<ellipse cx="791.6" cy="1471.9" rx="6" ry="14" fill="#565656" transform="rotate(-20 791.6 1471.9)"/>
<ellipse cx="793.9" cy="1489.3" rx="12" ry="9" fill="#4c4c4c"/>
<ellipse cx="805.5" cy="1533.3" rx="9" ry="8" fill="#414141"/>
</g>
<g filter="url(#bE3_6)">
<path d="M385 1450L376 1500L370 1535" fill="none" stroke="#4f4f4f" stroke-width="12" stroke-linecap="round" stroke-linejoin="round"/>
<path d="M392.5 1400L385 1450L378 1490" fill="none" stroke="#383838" stroke-width="15" stroke-linecap="round" stroke-linejoin="round"/>
<path d="M418.8 1274.8L409.6 1309.6L400.3 1355.9L392.6 1400L387 1440" fill="none" stroke="#232323" stroke-width="18" stroke-linecap="round" stroke-linejoin="round"/>
<path d="M425.8 1249.3L418.8 1274.8" fill="none" stroke="#252525" stroke-width="9" stroke-linecap="round" stroke-linejoin="round"/>
<polygon points="152.9,1226.1 209.4,1226.1 215.2,1309.6 219.7,1407 216.6,1499.7 216.2,1480 215.7,1735.1 170.3,1735.1 167.5,1561.2 162.4,1480 162.4,1499.7 157,1407 154.5,1309.6" fill="#ffffff"/>
<polygon points="470.5,1200 523.5,1200 521.5,1253 518.5,1356 515,1480 513,1573 509.5,1665 506.3,1722 505.3,1722 498,1677 489.5,1596 481.5,1500 478,1460 475,1407 472.5,1350 471,1253" fill="#ffffff"/>
<ellipse cx="431.1" cy="1344.3" rx="12.5" ry="57" fill="#ffffff"/>
<polygon points="600.3,1226.1 675.7,1226.1 683.8,1309.6 676.8,1335.1 662.9,1358.3 652.5,1368.7 642,1357.1 621.2,1329.3 607.2,1299.1" fill="#ffffff"/>
<path d="M703.5 1402.3L698.8 1460.3" fill="none" stroke="#c1c1c1" stroke-width="9" stroke-linecap="round" stroke-linejoin="round"/>
<path d="M739.4 1258.6L741.7 1314.2" fill="none" stroke="#dcdcdc" stroke-width="7" stroke-linecap="round" stroke-linejoin="round"/>
</g>
<g filter="url(#bE2_2)">
<polygon points="545.3,1226.1 589.9,1226.1 540,1499.7 540,1480 533.7,1526.4 530.5,1540.3 527.7,1526.4 525.6,1480 525.6,1499.7" fill="#0d0d0d"/>
<path d="M530.5 1526.4L528.6 1577.4" fill="none" stroke="#232323" stroke-width="4" stroke-linecap="round" stroke-linejoin="round"/>
<path d="M405.6 1328.1L399.1 1369.9" fill="none" stroke="#151515" stroke-width="6" stroke-linecap="round" stroke-linejoin="round"/>
<path d="M533.7 1249.3L524.9 1379.1L519.4 1471.9L518.4 1480L516.6 1572.8L511.5 1688.7" fill="none" stroke="#767676" stroke-width="3.2" stroke-linecap="round" stroke-linejoin="round"/>
<path d="M134.8 1249.3L138.3 1332.8L146.4 1425.5L149.9 1499.7L151.5 1480L158 1561.2L160.8 1715.8" fill="none" stroke="#767676" stroke-width="4" stroke-linecap="round" stroke-linejoin="round"/>
<path d="M843.8 1286.4L844.2 1499.7L844.2 1480L843.8 1619.1" fill="none" stroke="#646464" stroke-width="3.5" stroke-linecap="round" stroke-linejoin="round"/>
<path d="M509.2 1711.9L529.6 1600.6L552.8 1480L552.8 1499.7L569 1425.5" fill="none" stroke="#5a5a5a" stroke-width="3" stroke-linecap="round" stroke-linejoin="round"/>
<ellipse cx="404.2" cy="1257.4" rx="4" ry="4" fill="#a4a4a4"/>
</g>
</g></g>
<g stroke="#262626" stroke-width="2.2" fill="none">
<rect x="119" y="1253.2" width="728.3" height="462.6"/>
<path d="M164.4 1715.8v-9M278.2 1715.8v-9M392 1715.8v-9M505.9 1715.8v-9M619.8 1715.8v-9M733.6 1715.8v-9M181.9 1253.2v9M262.9 1253.2v9M343.9 1253.2v9M424.9 1253.2v9M505.9 1253.2v9M599.8 1253.2v9M693.7 1253.2v9M787.6 1253.2v9M119 1561.6h9M119 1407.4h9M847.3 1638.7h-9M847.3 1561.6h-9M847.3 1484.5h-9M847.3 1407.4h-9M847.3 1330.3h-9"/>
</g>
<g font-size="34" fill="#262626" text-anchor="middle">
<text x="162.9" y="1768">-3</text>
<text x="276.7" y="1768">-2</text>
<text x="390.5" y="1768">-1</text>
<text x="504.4" y="1768">0</text>
<text x="618.2" y="1768">1</text>
<text x="732.1" y="1768">2</text>
<text x="845.9" y="1768">3</text>
</g><g font-size="31.5" fill="#262626" text-anchor="middle">
<text x="180.2" y="1237.5">-4</text>
<text x="261.2" y="1237.5">-3</text>
<text x="342.2" y="1237.5">-2</text>
<text x="423.2" y="1237.5">-1</text>
<text x="500.6" y="1237.5">0</text>
<text x="594.5" y="1237.5">1</text>
<text x="688.4" y="1237.5">2</text>
<text x="782.3" y="1237.5">3</text>
</g><g font-size="34" fill="#262626" text-anchor="end">
<text x="110" y="1728.4">0</text>
<text x="110" y="1574.2">2</text>
<text x="110" y="1420">4</text>
<text x="110" y="1267.2">6</text>
</g>
<text x="366.8" y="1801" font-size="42" fill="#262626" textLength="230.6" lengthAdjust="spacing"><tspan font-style="italic">n</tspan> (10<tspan dy="-15" font-size="28">12</tspan><tspan dy="15"> cm</tspan><tspan dy="-15" font-size="28">−2</tspan><tspan dy="15">)</tspan></text>
<text x="410.4" y="1191.5" font-size="40" fill="#262626" textLength="142.6" lengthAdjust="spacing"><tspan font-style="italic">v</tspan> (4<tspan font-style="italic">n</tspan>/<tspan font-style="italic">n</tspan><tspan dy="6" font-size="25">s</tspan><tspan dy="-6">)</tspan></text>
<text transform="translate(74 1532.5) rotate(-90)" font-size="45" fill="#262626" textLength="96.6" lengthAdjust="spacing"><tspan font-style="italic">B</tspan> (T)</text>
<rect x="749" y="1170.8" width="105" height="26.4" fill="url(#cbe)" stroke="#262626" stroke-width="2"/>
<path d="M788 1171v5M841 1171v5" stroke="#262626" stroke-width="1.6"/>
<g font-size="35.5" text-anchor="middle"><text x="787.5" y="1161.8">2</text><text x="841" y="1161.8">4</text></g>
<text x="581.7" y="1179.5" font-size="32" textLength="163.3" lengthAdjust="spacing"><tspan font-style="italic" font-size="29">ρ</tspan><tspan dy="10" font-size="27">xx</tspan><tspan dy="-10"> (kΩ</tspan><tspan font-size="25" dy="-1">□</tspan><tspan font-size="22" dy="-10"> -1</tspan><tspan dy="11">)</tspan></text>
</g>
<g id="pf">
<text x="909" y="1196" font-size="46">(f)</text>
<defs><clipPath id="cf"><rect x="991.7" y="1252.3" width="733.3" height="463.4"/></clipPath></defs>
<g clip-path="url(#cf)" fill="none" stroke-width="2.2">
<path d="M1053.9 1715.7L991.7 1424.7" stroke="#EDB120" stroke-dasharray="2.6 2.6"/>
<path d="M1014 1529L991.7 1424.7" stroke="#EDB120"/>
<path d="M1219.5 1715.7L1285.6 1253.2" stroke="#D95319" stroke-dasharray="2.6 2.6"/>
<path d="M1239.5 1575.6L1282.6 1274.3" stroke="#D95319"/>
<path d="M1378.2 1715.7L1246.4 1253.2" stroke="#0072BD" stroke-dasharray="2.6 2.6"/>
<path d="M1304.8 1458L1298.9 1437.4" stroke="#0072BD"/>
<path d="M1378.2 1715.7L1313 1253.2" stroke="#0072BD" stroke-dasharray="2.6 2.6"/>
<path d="M1335.7 1413.9L1316.3 1276.8" stroke="#0072BD"/>
<path d="M1378.2 1715.7L1444.8 1253.2" stroke="#0072BD" stroke-dasharray="2.6 2.6"/>
<path d="M1393.4 1609.9L1444.8 1253.2" stroke="#0072BD"/>
<path d="M1378.2 1715.7L1510.4 1253.2" stroke="#0072BD" stroke-dasharray="2.6 2.6"/>
<path d="M1391.6 1668.6L1429.7 1535.4" stroke="#0072BD"/>
<path d="M1378.2 1715.7L1576.6 1253.2" stroke="#0072BD" stroke-dasharray="2.6 2.6"/>
<path d="M1446.1 1557.4L1481 1476.1" stroke="#0072BD"/>
<path d="M1563.4 1715.7L1596.7 1253.2" stroke="#7E2F8E" stroke-dasharray="2.6 2.6"/>
<path d="M1572.4 1590.3L1576.4 1533.9" stroke="#7E2F8E"/>
<path d="M1583.9 1431.1L1591.6 1323.3" stroke="#7E2F8E"/>
<path d="M1594.4 1284.1L1596.7 1253.2" stroke="#7E2F8E"/>
<path d="M1563.4 1715.7L1629.5 1253.2" stroke="#7E2F8E" stroke-dasharray="2.6 2.6"/>
<path d="M1563.4 1715.7L1695.6 1253.2" stroke="#7E2F8E" stroke-dasharray="2.6 2.6"/>
<path d="M1563.4 1715.7L1732.4 1253.2" stroke="#7E2F8E" stroke-dasharray="2.6 2.6"/>
<path d="M1639.6 1507L1662.5 1444.3" stroke="#7E2F8E"/>
<path d="M1664.7 1438.4L1695.5 1354.2" stroke="#7E2F8E"/>
</g>
<g stroke="#262626" stroke-width="2.2" fill="none">
<rect x="991.7" y="1252.3" width="743.3" height="463.4"/>
<path d="M1037.1 1715.7v-9M1150.8 1715.7v-9M1264.5 1715.7v-9M1378.2 1715.7v-9M1491.9 1715.7v-9M1605.6 1715.7v-9M1719.3 1715.7v-9M1054.9 1252.3v9M1134.7 1252.3v9M1216.5 1252.3v9M1297.4 1252.3v9M1378.2 1252.3v9M1472.7 1252.3v9M1565.8 1252.3v9M1658.9 1252.3v9M991.7 1715.7h9M991.7 1561.3h9M991.7 1406.9h9M991.7 1252.5h9"/>
</g>
<path d="M1725 1638.5h-11M1725 1561.3h-11M1725 1484.1h-11M1725 1406.9h-11M1725 1329.7h-11" stroke="#262626" stroke-width="2.2"/>
<g font-size="34" fill="#262626" text-anchor="middle">
<text x="1035.6" y="1768">-3</text>
<text x="1149.3" y="1768">-2</text>
<text x="1263" y="1768">-1</text>
<text x="1376.7" y="1768">0</text>
<text x="1490.4" y="1768">1</text>
<text x="1604.1" y="1768">2</text>
<text x="1717.8" y="1768">3</text>
</g><g font-size="31.5" fill="#262626" text-anchor="middle">
<text x="1053.2" y="1237.5">-4</text>
<text x="1133" y="1237.5">-3</text>
<text x="1214.8" y="1237.5">-2</text>
<text x="1295.7" y="1237.5">-1</text>
<text x="1372.9" y="1237.5">0</text>
<text x="1467.4" y="1237.5">1</text>
<text x="1560.5" y="1237.5">2</text>
<text x="1653.6" y="1237.5">3</text>
</g><g font-size="34" fill="#262626" text-anchor="end">
<text x="983" y="1728.3">0</text>
<text x="983" y="1573.9">2</text>
<text x="983" y="1419.5">4</text>
<text x="983" y="1266.5">6</text>
</g>
<text x="1241" y="1801" font-size="42" fill="#262626" textLength="229.5" lengthAdjust="spacing"><tspan font-style="italic">n</tspan> (10<tspan dy="-15" font-size="28">12</tspan><tspan dy="15"> cm</tspan><tspan dy="-15" font-size="28">−2</tspan><tspan dy="15">)</tspan></text>
<text x="1282.7" y="1192.7" font-size="40" fill="#262626" textLength="144.5" lengthAdjust="spacing"><tspan font-style="italic">v</tspan> (4<tspan font-style="italic">n</tspan>/<tspan font-style="italic">n</tspan><tspan dy="6" font-size="25">s</tspan><tspan dy="-6">)</tspan></text>
<text transform="translate(949.5 1534) rotate(-90)" font-size="45" fill="#262626" textLength="96.6" lengthAdjust="spacing"><tspan font-style="italic">B</tspan> (T)</text>
<rect x="999" y="1579.9" width="100" height="39" fill="#fff"/>
<text x="1001" y="1609.9" font-size="28" fill="#EDB120" textLength="96" lengthAdjust="spacing">(−6, −4)</text>
<rect x="1217" y="1368.4" width="79.9" height="39" fill="#fff"/>
<text x="1219" y="1398.4" font-size="28" fill="#D95319" textLength="75.9" lengthAdjust="spacing">(4, −2)</text>
<rect x="1285.6" y="1319.5" width="78.9" height="39" fill="#fff"/>
<text x="1287.6" y="1349.5" font-size="28" fill="#0072BD" textLength="74.9" lengthAdjust="spacing">(−4, 0)</text>
<rect x="1263.5" y="1477" width="78.9" height="39" fill="#fff"/>
<text x="1265.5" y="1507" font-size="28" fill="#0072BD" textLength="74.9" lengthAdjust="spacing">(−8, 0)</text>
<rect x="1386" y="1407.6" width="58.4" height="39" fill="#fff"/>
<text x="1388" y="1437.6" font-size="28" fill="#0072BD" textLength="54.4" lengthAdjust="spacing">(4, 0)</text>
<rect x="1453.6" y="1313.1" width="58.9" height="39" fill="#fff"/>
<text x="1455.6" y="1343.1" font-size="28" fill="#0072BD" textLength="54.9" lengthAdjust="spacing">(8, 0)</text>
<rect x="1479.5" y="1380.7" width="72.1" height="39" fill="#fff"/>
<text x="1481.5" y="1410.7" font-size="28" fill="#0072BD" textLength="68.1" lengthAdjust="spacing">(12, 0)</text>
<rect x="1561.4" y="1279.3" width="58.9" height="39" fill="#fff"/>
<text x="1563.4" y="1309.3" font-size="28" fill="#7E2F8E" textLength="54.9" lengthAdjust="spacing">(2, 2)</text>
<rect x="1594.2" y="1326.8" width="59.8" height="39" fill="#fff"/>
<text x="1596.2" y="1356.8" font-size="28" fill="#7E2F8E" textLength="55.8" lengthAdjust="spacing">(4, 2)</text>
<rect x="1642.2" y="1277.8" width="59.4" height="39" fill="#fff"/>
<text x="1644.2" y="1307.8" font-size="28" fill="#7E2F8E" textLength="55.4" lengthAdjust="spacing">(8, 2)</text>
<rect x="1643.7" y="1449.1" width="72.1" height="39" fill="#fff"/>
<text x="1645.7" y="1479.1" font-size="28" fill="#7E2F8E" textLength="68.1" lengthAdjust="spacing">(10, 2)</text>
</g>
</svg>
</body></html>
